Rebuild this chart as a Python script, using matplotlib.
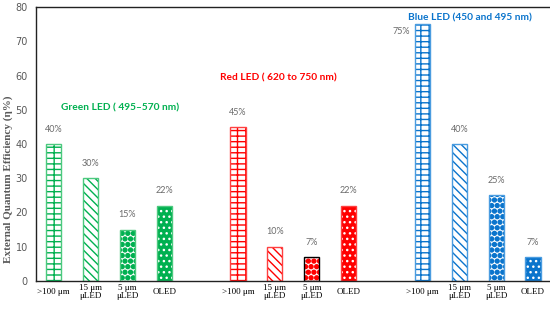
import matplotlib
import matplotlib.pyplot as plt
import matplotlib.hatch

# filled large dots for the "5 um" pattern
matplotlib.hatch.LargeCircles.filled = True

groups = ["Green LED ( 495\u2013570 nm)", "Red LED ( 620 to 750 nm)", "Blue LED (450 and 495 nm)"]
kinds = [">100 \u03bcm", "15 \u03bcm\n\u03bcLED", "5 \u03bcm\n\u03bcLED", "OLED"]
green_eqe = [40, 30, 15, 22]
red_eqe = [45, 10, 7, 22]
blue_eqe = [75, 40, 25, 7]
values = [green_eqe, red_eqe, blue_eqe]

colors = ["#00B050", "#FF0000", "#0A74CC"]
outlines = ["#4CC97E", "#FF4040", "#4A9CE0"]
title_x = [1.8, 1.1, 1.3]
title_y = [50.6, 59.3, 76.8]

plt.figure(figsize=(5.5, 3.09), dpi=100)
ax = plt.axes([0.066, 0.091, 0.94, 0.886])

hatches = ["---||", "\\\\\\\\", "OOO", "..."]
width = 0.41
xticks = []
for g, vals in enumerate(values):
    c = colors[g]
    for k, v in enumerate(vals):
        x = g * 5 + k
        xticks.append(x)
        if k == 3:
            face, hcol = c, "white"
        else:
            face, hcol = "white", c
        ax.bar(x, v, width, color=face, edgecolor=hcol, hatch=hatches[k], linewidth=0)
        edge = "black" if (g == 1 and k == 2) else outlines[g]
        ax.bar(x, v, width, fill=False, edgecolor=edge, linewidth=1.0)
        if g == 2 and k == 0:
            ax.text(x - 0.58, v - 2, f"{v}%", ha="center", va="center",
                    fontsize=6.5, family="Lato", color="#6b6b6b")
        else:
            ax.text(x, v + 4.3, f"{v}%", ha="center", va="center",
                    fontsize=6.5, family="Lato", color="#6b6b6b")
    ax.text(g * 5 + title_x[g], title_y[g], groups[g], ha="center", va="center",
            fontsize=7.3, family="Lato", fontweight="bold", color=c)

ax.set_xlim(-0.47, 13.55)
ax.set_ylim(0, 80)
ax.set_yticks(range(0, 81, 10))
ax.set_xticks(xticks)
ax.set_xticklabels(kinds * 3, family="Liberation Serif", fontsize=6.5,
                   linespacing=0.95)
for lab in ax.get_xticklabels():
    lab.set_verticalalignment("center")
ax.tick_params(axis="x", length=0, pad=8)
ax.tick_params(axis="y", length=0, labelsize=7, labelcolor="#595959", pad=6)
ax.spines["right"].set_visible(False)
for s in ["left", "bottom", "top"]:
    ax.spines[s].set_color("#222222")
    ax.spines[s].set_linewidth(1.0)

ax.set_ylabel("External Quantum Efficiency (\u03b7%)", family="Liberation Serif",
              fontweight="bold", fontsize=8, color="#595959")
ax.yaxis.set_label_coords(-0.045, 0.372)

plt.savefig("out.png", dpi=100)
plt.close()
